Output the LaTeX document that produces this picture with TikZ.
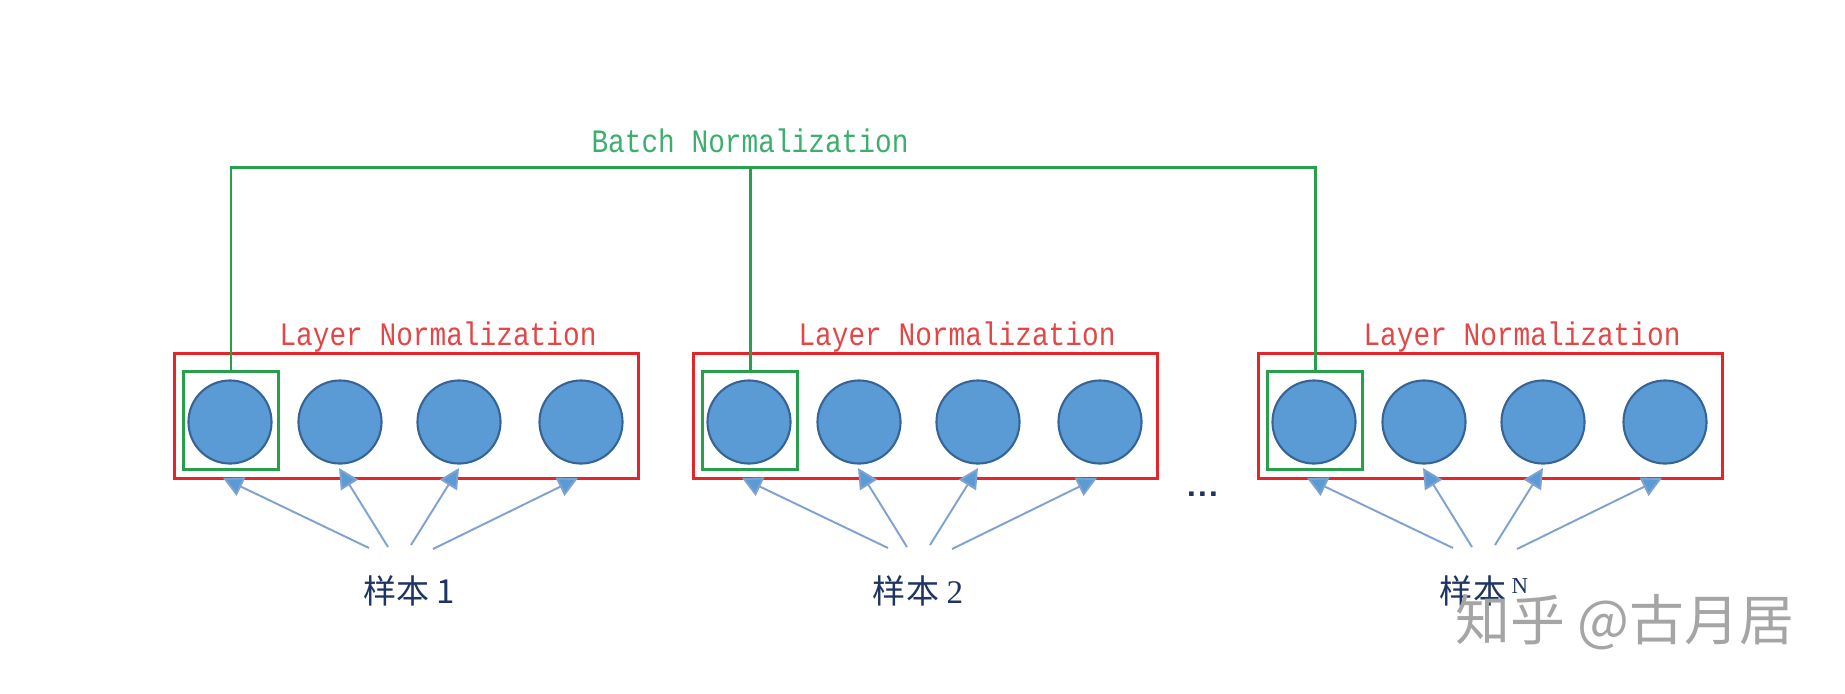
\documentclass[tikz,border=0pt]{standalone}
\usepackage{fontspec}
\setmainfont{Liberation Serif}
\newfontfamily\cjk{Noto Sans CJK SC}
\newfontfamily\codefont[FakeStretch=0.85]{Liberation Mono}
\usepackage{tikz}
\usetikzlibrary{arrows.meta, positioning, calc}

\definecolor{unitfill}{RGB}{91,155,213}
\definecolor{unitline}{RGB}{55,100,150}
\definecolor{lnred}{RGB}{228,38,42}
\definecolor{lntextred}{RGB}{226,70,70}
\definecolor{bngreen}{RGB}{38,160,75}
\definecolor{bntextgreen}{RGB}{60,175,110}
\definecolor{feedline}{RGB}{128,162,208}
\definecolor{navy}{RGB}{30,52,98}
\definecolor{wmgray}{RGB}{165,165,165}

\tikzset{
  unit/.style = {circle, draw=unitline, fill=unitfill, line width=0.6pt, minimum size=0.83cm, inner sep=0pt},
  lnbox/.style = {draw=lnred, line width=0.85pt, minimum width=4.63cm, minimum height=1.24cm, inner sep=0pt},
  bnbox/.style = {draw=bngreen, line width=0.85pt, minimum width=0.94cm, minimum height=0.97cm, inner sep=0pt},
  bnline/.style = {draw=bngreen, line width=0.85pt},
  feed/.style = {draw=feedline, line width=0.55pt, -{Triangle[length=0.2cm, width=0.2cm, fill=unitfill]}},
  lntext/.style = {text=lntextred, inner sep=0pt, font=\codefont\fontsize{9.3}{11}\selectfont},
  bntext/.style = {text=bntextgreen, inner sep=0pt, font=\codefont\fontsize{9.3}{11}\selectfont},
  sample/.style = {text=navy, inner sep=0pt, font=\cjk\fontsize{9.4}{11}\selectfont},
  watermark/.style = {text=wmgray, inner sep=0pt, font=\cjk\fontsize{15.6}{18}\selectfont}
}

\begin{document}
\begin{tikzpicture}[x=0.01cm, y=-0.01cm]
    \fill [white] (0,0) rectangle (1845,693);
    \useasboundingbox (0,0) rectangle (1845,693);

    \foreach \g/\gx in {1/175, 2/694, 3/1259} {
        \begin{scope}[shift={(\gx,0)}]
            \node [lnbox] (L\g) at (231.5,416) {};
            \node [lntext, anchor=base] (Lt\g) at (263,345) {Layer Normalization};
            \foreach \i/\cx/\tx/\ty/\hx/\hy in {1/55/194/548/48/478, 2/165/213/547/164/468,
                                                 3/284/236/545/284/468, 4/406/258/549/403/478} {
                \node [unit] (u\g\i) at (\cx,422) {};
                \coordinate (t\g\i) at (\tx,\ty);
                \coordinate (h\g\i) at (\hx,\hy);
                \draw [feed] (t\g\i) -- (h\g\i);
            }
            \node [bnbox] (B\g) at (56,420.5) {};
        \end{scope}
    }

    % batch normalization across the samples
    \coordinate (bn) at (750,167);
    \draw [bnline] (B1.north) |- (B3.north |- bn) -- (B3.north);
    \draw [bnline] (B2.north) -- (B2.north |- bn);
    \node [bntext, anchor=base] (bnlabel) at (750,152) {Batch Normalization};

    \node [sample, anchor=base] (s1) at (409,603) {样本 1};
    \node [sample, anchor=base] (s2) at (918,603) {样本 {\rmfamily 2}};
    \node [sample, anchor=base] (s3) at (1484,603) {样本\,\raisebox{2.8pt}{\rmfamily\fontsize{6.5}{7}\selectfont N}};
    \node [text=navy, inner sep=0pt, font=\sffamily\bfseries] (more) at (1203,494) {...};

    \node [watermark, anchor=base west] (wm) at (1455,640) {知乎 @古月居};
\end{tikzpicture}
\end{document}
